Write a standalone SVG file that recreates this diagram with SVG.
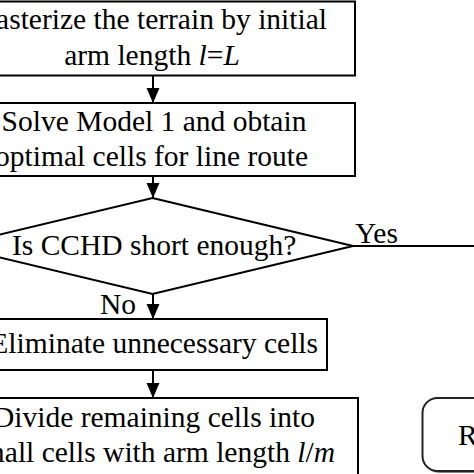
<svg xmlns="http://www.w3.org/2000/svg" width="474" height="474" viewBox="0 0 474 474">
<defs>
<style>
.box{fill:#fff;stroke:#000;stroke-width:2}
.t{font-family:"Liberation Serif","Times New Roman",serif;font-size:29.5px;fill:#000}
.c{stroke:#000;stroke-width:2;fill:none}
</style>
<marker id="ah" markerUnits="userSpaceOnUse" markerWidth="16" markerHeight="14" refX="15" refY="6.5" orient="auto">
<path d="M0,0 L15,6.5 L0,13 z" fill="#000"/>
</marker>
</defs>
<rect width="474" height="474" fill="#fff"/>
<g id="connectors">
<line class="c" x1="153" y1="75" x2="153" y2="103" marker-end="url(#ah)"/>
<line class="c" x1="153" y1="176" x2="153" y2="198" marker-end="url(#ah)"/>
<line class="c" x1="153" y1="294" x2="153" y2="319" marker-end="url(#ah)"/>
<line class="c" x1="153" y1="370" x2="153" y2="398" marker-end="url(#ah)"/>
<line class="c" x1="353" y1="246" x2="476" y2="246"/>
<text class="t" x="355" y="243">Yes</text>
<text class="t" x="100" y="314">No</text>
</g>
<g id="n1">
<rect class="box" x="-60" y="1.5" width="415" height="74"/>
<text class="t" x="327" y="29" text-anchor="end">asterize the terrain by initial</text>
<text class="t" x="152" y="65" text-anchor="middle">arm length <tspan font-style="italic">l</tspan>=<tspan font-style="italic">L</tspan></text>
</g>
<g id="n2">
<rect class="box" x="-60" y="103" width="415" height="73"/>
<text class="t" x="154" y="131" text-anchor="middle">Solve Model 1 and obtain</text>
<text class="t" x="308" y="166" text-anchor="end">optimal cells for line route</text>
</g>
<g id="n3">
<polygon class="box" points="152.5,198 353,246 152.5,294 -48,246"/>
<text class="t" x="12" y="255">Is CCHD short enough?</text>
</g>
<g id="n4">
<rect class="box" x="-60" y="319" width="387" height="51"/>
<text class="t" x="318" y="353" text-anchor="end">Eliminate unnecessary cells</text>
</g>
<g id="n5">
<rect class="box" x="-60" y="398" width="418" height="90"/>
<text class="t" x="315" y="427" text-anchor="end">Divide remaining cells into</text>
<text class="t" x="335" y="462" text-anchor="end">mall cells with arm length <tspan font-style="italic">l</tspan>/<tspan font-style="italic">m</tspan></text>
</g>
<g id="n6">
<rect x="424" y="400" width="80" height="73" rx="15" fill="#888"/>
<rect x="422.5" y="398" width="80" height="73" rx="15" fill="#fff" stroke="#222" stroke-width="2"/>
<text class="t" x="458" y="445">R</text>
</g>
</svg>
